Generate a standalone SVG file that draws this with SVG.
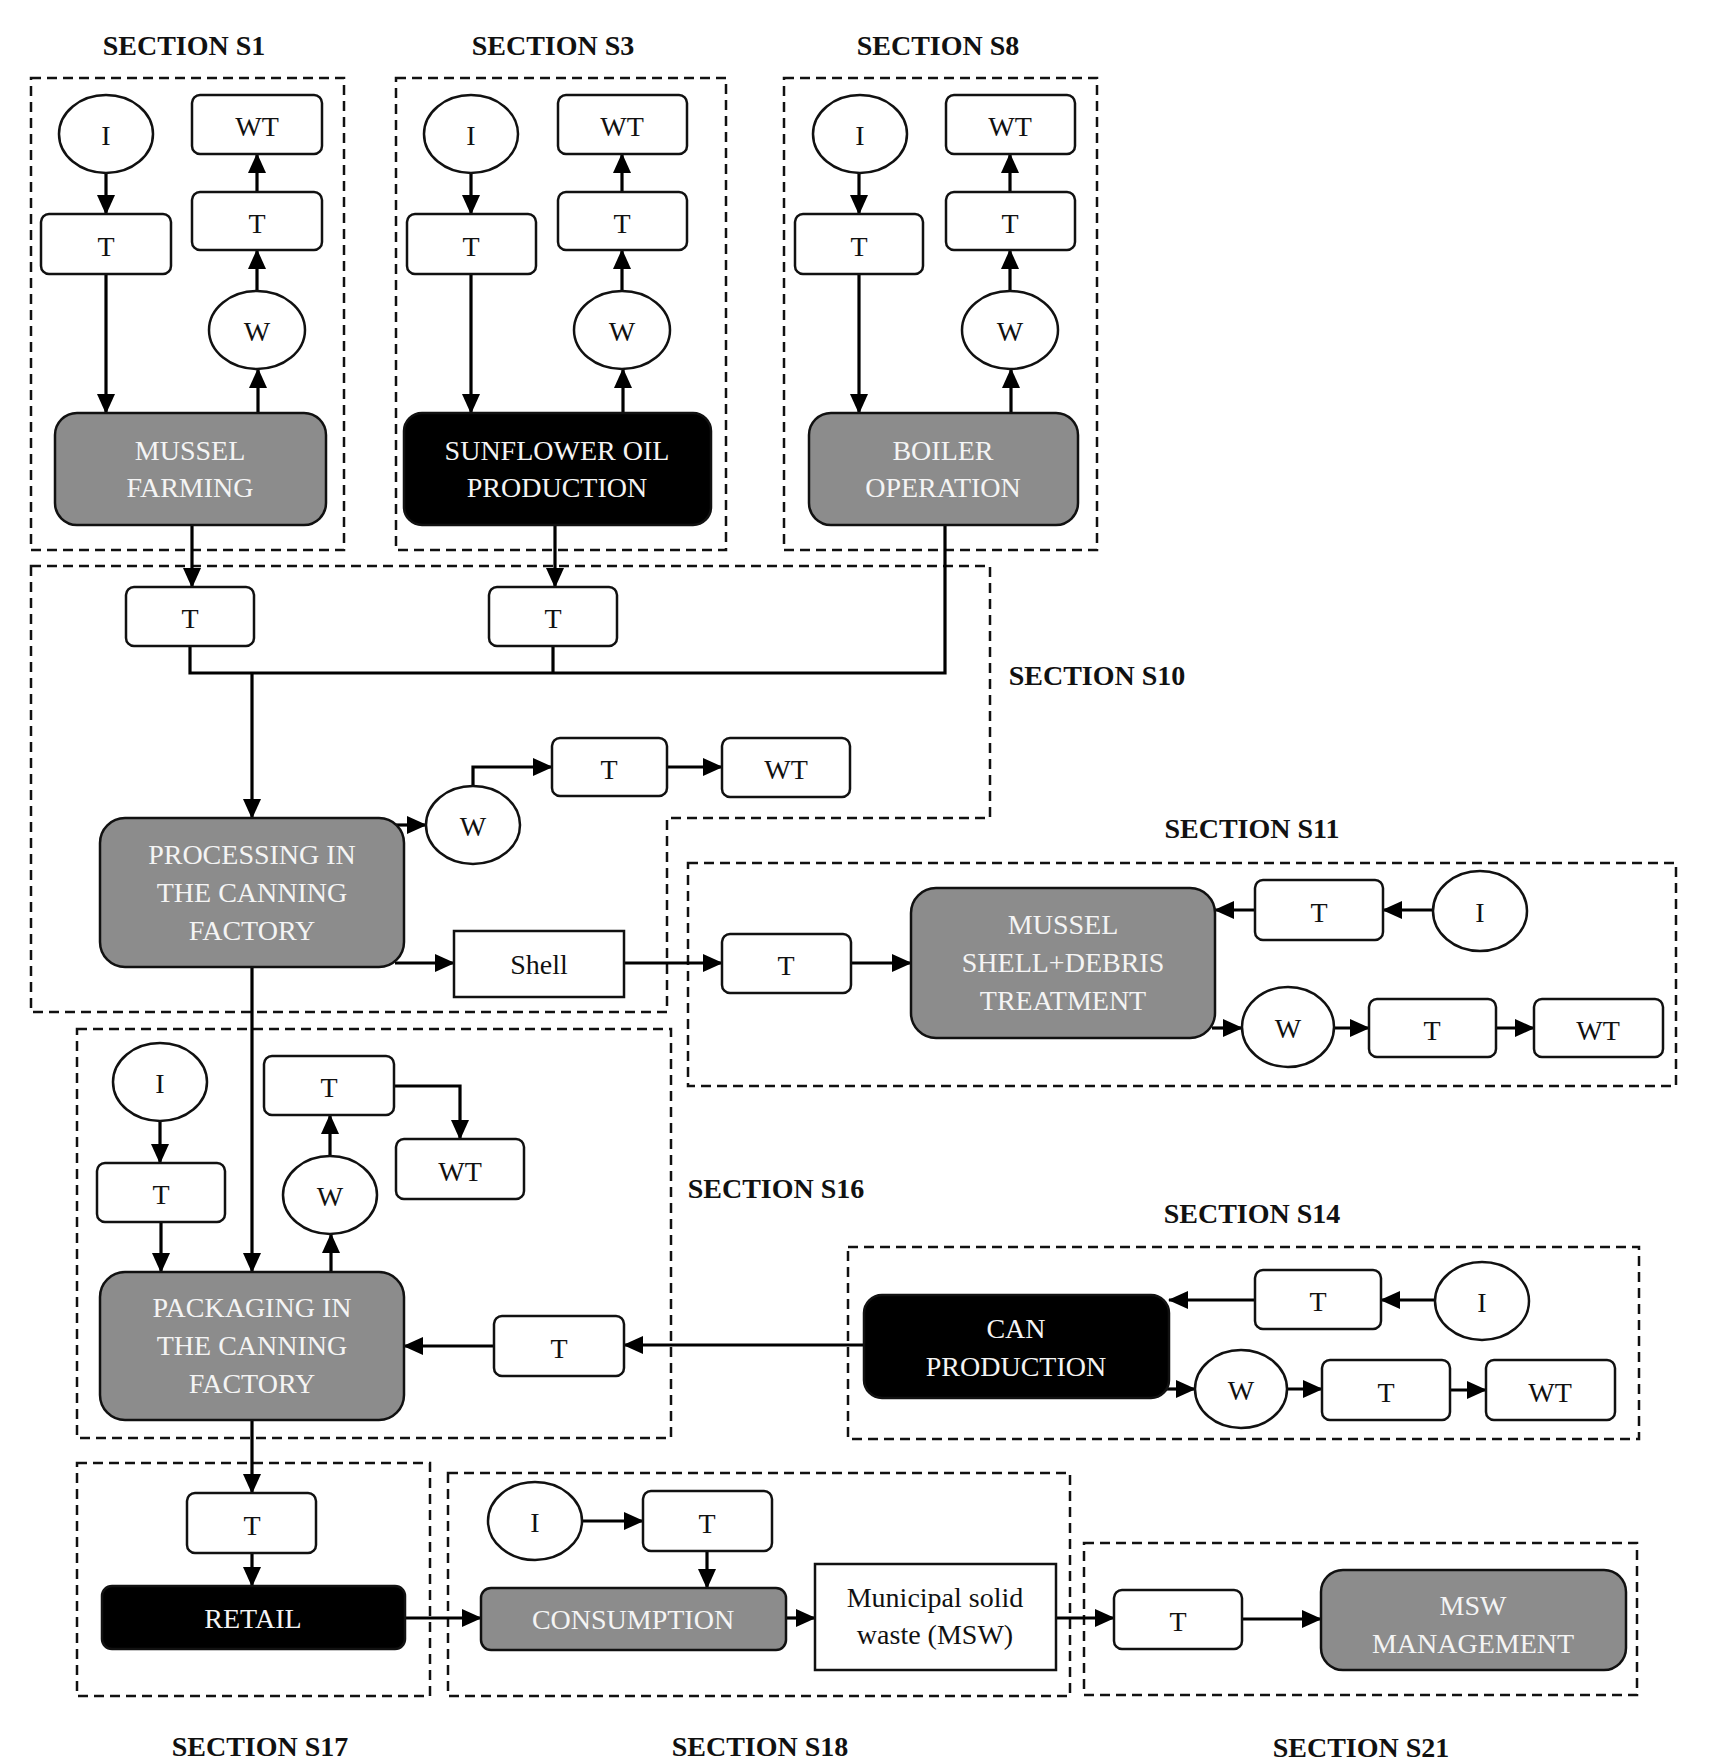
<svg xmlns="http://www.w3.org/2000/svg" width="1724" height="1761" viewBox="0 0 1724 1761">
<style>
.bg{fill:#ffffff}
.sec{fill:none;stroke:#111;stroke-width:2.5;stroke-dasharray:10 6}
.st{font-family:"Liberation Serif","Times New Roman",serif;font-weight:bold;font-size:28px;fill:#111;text-anchor:middle}
.bx{fill:#fff;stroke:#111;stroke-width:2.5}
.el{fill:#fff;stroke:#111;stroke-width:2.5}
.gr{fill:#8c8c8c;stroke:#111;stroke-width:2.5}
.bk{fill:#000;stroke:#111;stroke-width:2.5}
.t{font-family:"Liberation Serif","Times New Roman",serif;font-size:28px;fill:#111;text-anchor:middle}
.tw{font-family:"Liberation Serif","Times New Roman",serif;font-size:28px;fill:#f4f4f4;text-anchor:middle}
.c{fill:none;stroke:#000;stroke-width:3.2}
.a{fill:none;stroke:#000;stroke-width:3.2;marker-end:url(#ah)}
</style>
<defs>
<marker id="ah" viewBox="0 0 20 18" refX="19" refY="9" markerWidth="20" markerHeight="18" markerUnits="userSpaceOnUse" orient="auto">
<path d="M0,0 L20,9 L0,18 z" fill="#000"/>
</marker>
</defs>
<rect class="bg" x="0" y="0" width="1724" height="1761"/>

<g id="sections">
<rect class="sec" x="31" y="78" width="313" height="472"/>
<rect class="sec" x="396" y="78" width="330" height="472"/>
<rect class="sec" x="784" y="78" width="313" height="472"/>
<path class="sec" d="M31,566 L990,566 L990,818 L667,818 L667,1012 L31,1012 Z"/>
<rect class="sec" x="688" y="863" width="988" height="223"/>
<rect class="sec" x="77" y="1029" width="594" height="409"/>
<rect class="sec" x="848" y="1247" width="791" height="192"/>
<rect class="sec" x="77" y="1463" width="353" height="233"/>
<rect class="sec" x="448" y="1473" width="622" height="223"/>
<rect class="sec" x="1084" y="1543" width="553" height="152"/>
<text class="st" x="184" y="55">SECTION S1</text>
<text class="st" x="553" y="55">SECTION S3</text>
<text class="st" x="938" y="55">SECTION S8</text>
<text class="st" x="1097" y="685">SECTION S10</text>
<text class="st" x="1252" y="838">SECTION S11</text>
<text class="st" x="776" y="1198">SECTION S16</text>
<text class="st" x="1252" y="1223">SECTION S14</text>
<text class="st" x="260" y="1756">SECTION S17</text>
<text class="st" x="760" y="1756">SECTION S18</text>
<text class="st" x="1361" y="1757">SECTION S21</text>
</g>

<g id="connectors">
<!-- S1 -->
<path class="a" d="M106,173 L106,214"/>
<path class="a" d="M106,274 L106,413"/>
<path class="a" d="M258,413 L258,369"/>
<path class="a" d="M257,291 L257,250"/>
<path class="a" d="M257,192 L257,154"/>
<!-- S3 -->
<path class="a" d="M471,173 L471,214"/>
<path class="a" d="M471,274 L471,413"/>
<path class="a" d="M623,413 L623,369"/>
<path class="a" d="M622,291 L622,250"/>
<path class="a" d="M622,192 L622,154"/>
<!-- S8 -->
<path class="a" d="M859,173 L859,214"/>
<path class="a" d="M859,274 L859,413"/>
<path class="a" d="M1011,413 L1011,369"/>
<path class="a" d="M1010,291 L1010,250"/>
<path class="a" d="M1010,192 L1010,154"/>
<!-- S10 -->
<path class="a" d="M192,525 L192,587"/>
<path class="a" d="M555,525 L555,587"/>
<path class="c" d="M190,646 L190,673 L945,673 L945,525"/>
<path class="c" d="M553,646 L553,673"/>
<path class="a" d="M252,673 L252,818"/>
<path class="a" d="M395,825 L426,825"/>
<path class="a" d="M473,786 L473,767 L552,767"/>
<path class="a" d="M667,767 L722,767"/>
<path class="a" d="M395,963 L454,963"/>
<path class="a" d="M624,963 L722,963"/>
<path class="a" d="M252,967 L252,1272"/>
<!-- S11 -->
<path class="a" d="M851,963 L911,963"/>
<path class="a" d="M1433,910 L1383,910"/>
<path class="a" d="M1255,910 L1215,910"/>
<path class="a" d="M1212,1028 L1242,1028"/>
<path class="a" d="M1335,1028 L1369,1028"/>
<path class="a" d="M1496,1028 L1534,1028"/>
<!-- S16 -->
<path class="a" d="M160,1121 L160,1163"/>
<path class="a" d="M161,1222 L161,1272"/>
<path class="a" d="M394,1086 L460,1086 L460,1139"/>
<path class="a" d="M331,1272 L331,1234"/>
<path class="a" d="M330,1156 L330,1115"/>
<path class="a" d="M494,1346 L404,1346"/>
<path class="a" d="M864,1345 L624,1345"/>
<path class="a" d="M252,1420 L252,1493"/>
<!-- S14 -->
<path class="a" d="M1435,1300 L1381,1300"/>
<path class="a" d="M1255,1300 L1169,1300"/>
<path class="a" d="M1166,1389 L1195,1389"/>
<path class="a" d="M1287,1389 L1322,1389"/>
<path class="a" d="M1450,1390 L1486,1390"/>
<!-- S17/S18/S21 -->
<path class="a" d="M252,1553 L252,1586"/>
<path class="a" d="M405,1618 L481,1618"/>
<path class="a" d="M582,1521 L643,1521"/>
<path class="a" d="M707,1551 L707,1588"/>
<path class="a" d="M786,1618 L815,1618"/>
<path class="a" d="M1056,1618 L1114,1618"/>
<path class="a" d="M1242,1619 L1321,1619"/>
</g>

<!-- S1 nodes -->
<g id="s1-i"><ellipse class="el" cx="106" cy="134" rx="47" ry="39"/><text class="t" x="106" y="145">I</text></g>
<g id="s1-t"><rect class="bx" x="41" y="214" width="130" height="60" rx="8"/><text class="t" x="106" y="256">T</text></g>
<g id="s1-wt"><rect class="bx" x="192" y="95" width="130" height="59" rx="8"/><text class="t" x="257" y="136">WT</text></g>
<g id="s1-t2"><rect class="bx" x="192" y="192" width="130" height="58" rx="8"/><text class="t" x="257" y="233">T</text></g>
<g id="s1-w"><ellipse class="el" cx="257" cy="330" rx="48" ry="39"/><text class="t" x="257" y="341">W</text></g>
<g id="s1-mussel"><rect class="gr" x="55" y="413" width="271" height="112" rx="22"/><text class="tw" x="190" y="460">MUSSEL</text><text class="tw" x="190" y="497">FARMING</text></g>

<!-- S3 nodes -->
<g id="s3-i"><ellipse class="el" cx="471" cy="134" rx="47" ry="39"/><text class="t" x="471" y="145">I</text></g>
<g id="s3-t"><rect class="bx" x="407" y="214" width="129" height="60" rx="8"/><text class="t" x="471" y="256">T</text></g>
<g id="s3-wt"><rect class="bx" x="558" y="95" width="129" height="59" rx="8"/><text class="t" x="622" y="136">WT</text></g>
<g id="s3-t2"><rect class="bx" x="558" y="192" width="129" height="58" rx="8"/><text class="t" x="622" y="233">T</text></g>
<g id="s3-w"><ellipse class="el" cx="622" cy="330" rx="48" ry="39"/><text class="t" x="622" y="341">W</text></g>
<g id="s3-sunflower"><rect class="bk" x="404" y="413" width="307" height="112" rx="18"/><text class="tw" x="557" y="460">SUNFLOWER OIL</text><text class="tw" x="557" y="497">PRODUCTION</text></g>

<!-- S8 nodes -->
<g id="s8-i"><ellipse class="el" cx="860" cy="134" rx="47" ry="39"/><text class="t" x="860" y="145">I</text></g>
<g id="s8-t"><rect class="bx" x="795" y="214" width="128" height="60" rx="8"/><text class="t" x="859" y="256">T</text></g>
<g id="s8-wt"><rect class="bx" x="946" y="95" width="129" height="59" rx="8"/><text class="t" x="1010" y="136">WT</text></g>
<g id="s8-t2"><rect class="bx" x="946" y="192" width="129" height="58" rx="8"/><text class="t" x="1010" y="233">T</text></g>
<g id="s8-w"><ellipse class="el" cx="1010" cy="330" rx="48" ry="39"/><text class="t" x="1010" y="341">W</text></g>
<g id="s8-boiler"><rect class="gr" x="809" y="413" width="269" height="112" rx="22"/><text class="tw" x="943" y="460">BOILER</text><text class="tw" x="943" y="497">OPERATION</text></g>

<!-- S10 nodes -->
<g id="s10-t1"><rect class="bx" x="126" y="587" width="128" height="59" rx="8"/><text class="t" x="190" y="628">T</text></g>
<g id="s10-t2"><rect class="bx" x="489" y="587" width="128" height="59" rx="8"/><text class="t" x="553" y="628">T</text></g>
<g id="s10-processing"><rect class="gr" x="100" y="818" width="304" height="149" rx="25"/><text class="tw" x="252" y="864">PROCESSING IN</text><text class="tw" x="252" y="902">THE CANNING</text><text class="tw" x="252" y="940">FACTORY</text></g>
<g id="s10-w"><ellipse class="el" cx="473" cy="825" rx="47" ry="39"/><text class="t" x="473" y="836">W</text></g>
<g id="s10-t3"><rect class="bx" x="552" y="738" width="115" height="58" rx="8"/><text class="t" x="609" y="779">T</text></g>
<g id="s10-wt"><rect class="bx" x="722" y="738" width="128" height="59" rx="8"/><text class="t" x="786" y="779">WT</text></g>
<g id="s10-shell"><rect class="bx" x="454" y="931" width="170" height="66"/><text class="t" x="539" y="974">Shell</text></g>

<!-- S11 nodes -->
<g id="s11-t"><rect class="bx" x="722" y="934" width="129" height="59" rx="8"/><text class="t" x="786" y="975">T</text></g>
<g id="s11-treatment"><rect class="gr" x="911" y="888" width="304" height="150" rx="25"/><text class="tw" x="1063" y="934">MUSSEL</text><text class="tw" x="1063" y="972">SHELL+DEBRIS</text><text class="tw" x="1063" y="1010">TREATMENT</text></g>
<g id="s11-t2"><rect class="bx" x="1255" y="880" width="128" height="60" rx="8"/><text class="t" x="1319" y="922">T</text></g>
<g id="s11-i"><ellipse class="el" cx="1480" cy="911" rx="47" ry="40"/><text class="t" x="1480" y="922">I</text></g>
<g id="s11-w"><ellipse class="el" cx="1288" cy="1027" rx="46" ry="40"/><text class="t" x="1288" y="1038">W</text></g>
<g id="s11-t3"><rect class="bx" x="1369" y="999" width="127" height="58" rx="8"/><text class="t" x="1432" y="1040">T</text></g>
<g id="s11-wt"><rect class="bx" x="1534" y="999" width="129" height="58" rx="8"/><text class="t" x="1598" y="1040">WT</text></g>

<!-- S16 nodes -->
<g id="s16-i"><ellipse class="el" cx="160" cy="1082" rx="47" ry="39"/><text class="t" x="160" y="1093">I</text></g>
<g id="s16-t"><rect class="bx" x="97" y="1163" width="128" height="59" rx="8"/><text class="t" x="161" y="1204">T</text></g>
<g id="s16-t2"><rect class="bx" x="264" y="1056" width="130" height="59" rx="8"/><text class="t" x="329" y="1097">T</text></g>
<g id="s16-wt"><rect class="bx" x="396" y="1139" width="128" height="60" rx="8"/><text class="t" x="460" y="1181">WT</text></g>
<g id="s16-w"><ellipse class="el" cx="330" cy="1195" rx="47" ry="39"/><text class="t" x="330" y="1206">W</text></g>
<g id="s16-packaging"><rect class="gr" x="100" y="1272" width="304" height="148" rx="25"/><text class="tw" x="252" y="1317">PACKAGING IN</text><text class="tw" x="252" y="1355">THE CANNING</text><text class="tw" x="252" y="1393">FACTORY</text></g>
<g id="s16-t3"><rect class="bx" x="494" y="1316" width="130" height="60" rx="8"/><text class="t" x="559" y="1358">T</text></g>

<!-- S14 nodes -->
<g id="s14-can"><rect class="bk" x="864" y="1295" width="305" height="103" rx="18"/><text class="tw" x="1016" y="1338">CAN</text><text class="tw" x="1016" y="1376">PRODUCTION</text></g>
<g id="s14-t"><rect class="bx" x="1255" y="1270" width="126" height="59" rx="8"/><text class="t" x="1318" y="1311">T</text></g>
<g id="s14-i"><ellipse class="el" cx="1482" cy="1301" rx="47" ry="39"/><text class="t" x="1482" y="1312">I</text></g>
<g id="s14-w"><ellipse class="el" cx="1241" cy="1389" rx="46" ry="39"/><text class="t" x="1241" y="1400">W</text></g>
<g id="s14-t2"><rect class="bx" x="1322" y="1360" width="128" height="60" rx="8"/><text class="t" x="1386" y="1402">T</text></g>
<g id="s14-wt"><rect class="bx" x="1486" y="1360" width="129" height="60" rx="8"/><text class="t" x="1550" y="1402">WT</text></g>

<!-- S17 nodes -->
<g id="s17-t"><rect class="bx" x="187" y="1493" width="129" height="60" rx="8"/><text class="t" x="252" y="1535">T</text></g>
<g id="s17-retail"><rect class="bk" x="102" y="1586" width="303" height="63" rx="10"/><text class="tw" x="253" y="1628">RETAIL</text></g>

<!-- S18 nodes -->
<g id="s18-i"><ellipse class="el" cx="535" cy="1521" rx="47" ry="39"/><text class="t" x="535" y="1532">I</text></g>
<g id="s18-t"><rect class="bx" x="643" y="1491" width="129" height="60" rx="8"/><text class="t" x="707" y="1533">T</text></g>
<g id="s18-consumption"><rect class="gr" x="481" y="1588" width="305" height="62" rx="10"/><text class="tw" x="633" y="1629">CONSUMPTION</text></g>
<g id="s18-msw"><rect class="bx" x="815" y="1564" width="241" height="106"/><text class="t" x="935" y="1607">Municipal solid</text><text class="t" x="935" y="1644">waste (MSW)</text></g>

<!-- S21 nodes -->
<g id="s21-t"><rect class="bx" x="1114" y="1590" width="128" height="59" rx="8"/><text class="t" x="1178" y="1631">T</text></g>
<g id="s21-mswm"><rect class="gr" x="1321" y="1570" width="305" height="100" rx="22"/><text class="tw" x="1473" y="1615">MSW</text><text class="tw" x="1473" y="1653">MANAGEMENT</text></g>
</svg>
